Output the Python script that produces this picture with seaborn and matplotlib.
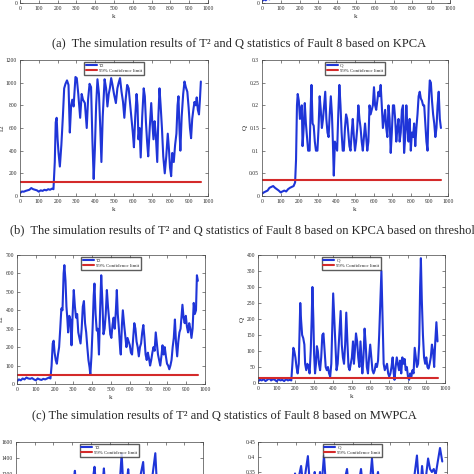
import numpy as np
import pandas as pd
import matplotlib
matplotlib.use("Agg")
import matplotlib.pyplot as plt
import seaborn as sns

# ---- data ----
# (a) only the first few samples of the Q panel peek into the crop
a_q_k = [0, 10, 20, 30, 40]
a_q = [0.004, 0.008, 0.006, 0.010, 0.008]

# (b) KPCA based on threshold
b_t2_k = [0, 10, 20, 30, 40, 50, 60, 70, 80, 90, 100, 110, 120, 130, 140, 150, 160, 170, 178,
          185, 190, 195, 200, 205, 212, 220, 228, 235, 242, 250, 258, 265, 272, 278, 285, 295,
          302, 310, 320, 328, 335, 345, 355, 362, 370, 378, 385, 392, 398, 405, 412, 420, 427,
          433, 440, 450, 458, 465, 472, 478, 485, 492, 500, 510, 518, 525, 532, 540, 548, 555,
          562, 570, 578, 585, 592, 600, 606, 613, 620, 625, 630, 636, 642, 650, 658, 664, 670,
          676, 682, 690, 698, 704, 710, 716, 722, 730, 736, 742, 748, 755, 762, 770, 778, 786,
          792, 798, 804, 810, 818, 825, 832, 838, 843, 848, 853, 860, 868, 875, 882, 890, 897,
          904, 910, 916, 922, 928, 935, 940, 946, 952, 957, 962]
b_t2 = [25, 40, 38, 45, 50, 55, 70, 60, 55, 50, 38, 50, 45, 55, 50, 60, 55, 65, 60,
        300, 650, 690, 500, 380, 260, 450, 700, 950, 990, 1020, 980, 560, 800, 850, 790, 1050,
        1040, 900, 690, 900, 850, 820, 600, 850, 990, 960, 500, 150, 400, 800, 1030, 900, 600,
        300, 700, 1030, 950, 790, 900, 950, 1040, 980, 900, 820, 950, 1000, 1040, 920, 830, 690,
        850, 980, 950, 820, 700, 560, 430, 700, 900, 800, 500, 600, 340, 700, 950, 880, 650,
        480, 350, 600, 820, 640, 500, 660, 550, 300, 700, 950, 800, 600, 350, 200, 350, 550,
        420, 250, 175, 380, 300, 450, 550, 800, 880, 600, 400, 700, 900, 1010, 960, 920, 780,
        600, 510, 680, 760, 830, 800, 870, 760, 720, 850, 1010]
b_t2_limit = 120

b_q_k = [0, 10, 20, 30, 40, 50, 60, 70, 80, 90, 100, 110, 120, 130, 140, 150, 160, 170, 178,
         183, 188, 192, 198, 204, 210, 214, 218, 224, 230, 236, 242, 248, 256, 262, 266, 272,
         278, 284, 290, 298, 304, 310, 316, 322, 328, 334, 340, 346, 352, 358, 364, 370, 376,
         381, 386, 392, 398, 404, 410, 416, 422, 428, 434, 440, 446, 452, 458, 464, 470, 476,
         482, 488, 494, 500, 506, 512, 518, 524, 530, 536, 542, 548, 554, 560, 566, 572, 578,
         584, 590, 596, 602, 608, 614, 620, 626, 632, 638, 644, 650, 656, 662, 668, 674, 680,
         686, 692, 698, 704, 710, 716, 722, 728, 734, 740, 746, 752, 758, 764, 770, 776, 782,
         788, 794, 800, 806, 812, 818, 824, 830, 836, 842, 848, 854, 860, 866, 872, 878, 884,
         890, 896, 902, 908, 914, 920, 926, 932, 938, 944, 950, 956, 962]
b_q = [0.005, 0.008, 0.010, 0.012, 0.018, 0.020, 0.022, 0.018, 0.015, 0.012, 0.008, 0.010,
       0.012, 0.010, 0.015, 0.018, 0.020, 0.022, 0.030,
       0.08, 0.20, 0.225, 0.21, 0.17, 0.19, 0.20, 0.11, 0.15, 0.205, 0.16, 0.13, 0.10, 0.10,
       0.20, 0.245, 0.16, 0.155, 0.12, 0.10, 0.10, 0.15, 0.22, 0.19, 0.15, 0.17, 0.20, 0.23,
       0.17, 0.14, 0.13, 0.18, 0.22, 0.18, 0.12, 0.045, 0.12, 0.11, 0.10, 0.18, 0.245, 0.20,
       0.14, 0.10, 0.10, 0.15, 0.18, 0.17, 0.14, 0.11, 0.10, 0.14, 0.17, 0.13, 0.10, 0.12,
       0.15, 0.20, 0.17, 0.15, 0.12, 0.10, 0.13, 0.16, 0.13, 0.10, 0.12, 0.20, 0.18, 0.19,
       0.20, 0.24, 0.20, 0.19, 0.21, 0.23, 0.22, 0.245, 0.20, 0.15, 0.17, 0.19, 0.15, 0.13,
       0.20, 0.17, 0.095, 0.14, 0.20, 0.20, 0.17, 0.12, 0.15, 0.17, 0.12, 0.14, 0.19, 0.20,
       0.095, 0.13, 0.20, 0.15, 0.12, 0.17, 0.10, 0.14, 0.13, 0.16, 0.11, 0.15, 0.18, 0.22,
       0.23, 0.215, 0.21, 0.20, 0.20, 0.16, 0.12, 0.10, 0.20, 0.255, 0.25, 0.21, 0.18, 0.16,
       0.13, 0.15, 0.20, 0.23, 0.17, 0.15]
b_q_limit = 0.035

# (c) MWPCA
c_t2_k = [0, 10, 20, 30, 40, 50, 60, 70, 80, 90, 100, 110, 120, 130, 140, 150, 160, 170, 178,
          184, 190, 195, 200, 206, 212, 218, 224, 230, 236, 242, 248, 252, 258, 263, 268, 272,
          278, 284, 290, 296, 302, 308, 314, 320, 326, 332, 338, 344, 350, 356, 362, 368, 374,
          380, 386, 390, 396, 402, 408, 412, 418, 424, 430, 436, 442, 448, 454, 460, 466, 472,
          478, 484, 490, 496, 502, 508, 514, 520, 526, 531, 536, 542, 548, 552, 558, 563, 570,
          576, 582, 588, 594, 600, 606, 612, 618, 624, 630, 636, 642, 648, 654, 660, 666, 672,
          678, 684, 690, 696, 702, 708, 714, 720, 726, 732, 738, 744, 750, 756, 762, 768, 774,
          780, 786, 792, 798, 804, 810, 816, 822, 828, 834, 840, 846, 852, 858, 864, 870, 876,
          880, 886, 892, 898, 904, 910, 916, 922, 928, 934, 940, 946, 952, 957, 962]
c_t2 = [15, 25, 20, 30, 25, 35, 30, 28, 32, 25, 20, 30, 25, 22, 28, 25, 30, 35, 30,
        100, 220, 235, 170, 130, 110, 160, 200, 300, 410, 400, 600, 645, 560, 420, 350, 280,
        370, 350, 210, 380, 510, 420, 360, 380, 280, 250, 220, 300, 420, 450, 330, 280, 200,
        130, 90, 50, 150, 300, 480, 545, 380, 290, 300, 160, 400, 590, 450, 270, 300, 380,
        510, 420, 350, 270, 250, 320, 360, 300, 400, 510, 380, 300, 200, 160, 320, 400, 320,
        260, 200, 250, 230, 210, 170, 160, 250, 330, 300, 230, 200, 150, 200, 220, 280, 320,
        250, 160, 130, 170, 140, 100, 130, 170, 200, 180, 280, 220, 160, 130, 100, 150, 210,
        160, 200, 150, 110, 100, 80, 100, 130, 200, 250, 350, 220, 150, 230, 280, 300, 380,
        430, 360, 330, 370, 310, 280, 330, 300, 250, 300, 440, 380, 400, 590, 560]
c_t2_limit = 50

c_q_k = [0, 10, 20, 30, 40, 50, 60, 70, 80, 90, 100, 110, 120, 130, 140, 150, 160, 170, 178,
         184, 189, 194, 200, 206, 212, 218, 222, 226, 230, 236, 242, 248, 252, 258, 264, 270,
         276, 282, 287, 291, 296, 300, 305, 310, 315, 320, 326, 332, 338, 344, 350, 356, 362,
         368, 374, 380, 386, 392, 398, 402, 408, 414, 420, 426, 432, 438, 442, 448, 454, 460,
         466, 472, 478, 484, 490, 496, 502, 508, 513, 518, 524, 530, 536, 542, 548, 553, 558,
         564, 570, 576, 582, 588, 594, 600, 606, 612, 618, 624, 630, 636, 642, 648, 654, 660,
         666, 672, 678, 684, 690, 696, 702, 708, 714, 720, 726, 730, 736, 742, 748, 754, 760,
         766, 772, 778, 784, 790, 796, 802, 808, 814, 820, 826, 832, 838, 844, 850, 856, 862,
         867, 871, 876, 882, 888, 894, 900, 906, 912, 918, 924, 930, 936, 942, 948, 954, 960]
c_q = [5, 10, 8, 12, 6, 10, 15, 8, 12, 10, 5, 12, 8, 10, 6, 12, 8, 10, 8,
       60, 110, 100, 80, 50, 30, 60, 150, 250, 200, 150, 140, 120, 60, 40, 60, 50,
       30, 100, 200, 300, 200, 90, 30, 60, 115, 100, 60, 40, 80, 150, 155, 100, 50,
       40, 50, 30, 20, 60, 200, 280, 200, 120, 40, 60, 120, 180, 225, 120, 80, 60,
       120, 220, 130, 50, 40, 60, 80, 130, 60, 100, 155, 130, 80, 50, 130, 80, 30,
       80, 170, 120, 50, 30, 80, 120, 80, 40, 30, 40, 60, 50, 70, 150, 250, 350,
       200, 60, 40, 50, 60, 30, 20, 30, 50, 80, 30, 10, 50, 80, 60, 40, 70,
       30, 80, 60, 75, 40, 50, 20, 10, 30, 20, 40, 30, 110, 80, 50, 60, 120,
       300, 390, 260, 150, 80, 60, 80, 50, 45, 60, 80, 120, 100, 50, 130, 190, 130]
c_q_limit = 15

# (d) only the top of the next row is visible
d_t2_k = [0, 180, 200, 240, 270, 300, 315, 325, 360, 400, 420, 430, 460, 470, 480, 520, 555,
          565, 575, 590, 600, 610, 650, 680, 690, 720, 745, 755, 800, 960]
d_t2 = [40, 60, 900, 1000, 900, 1000, 1240, 950, 1000, 950, 1290, 1000, 1000, 1270, 950,
        1000, 1100, 1450, 1000, 1050, 1260, 1000, 1000, 1350, 950, 1000, 1460, 1000, 900, 900]
d_t2_limit = 150

d_q_k = [0, 180, 190, 196, 205, 228, 240, 264, 275, 290, 300, 310, 320, 328, 336, 349, 360,
         450, 471, 480, 530, 545, 555, 590, 603, 612, 620, 635, 645, 820, 841, 852, 860, 868,
         876, 888, 900, 910, 920, 930, 940, 950, 963, 975]
d_q = [0.01, 0.02, 0.30, 0.345, 0.30, 0.37, 0.30, 0.403, 0.30, 0.30, 0.35, 0.30, 0.30, 0.35,
       0.30, 0.405, 0.30, 0.30, 0.36, 0.30, 0.30, 0.36, 0.30, 0.30, 0.395, 0.32, 0.30, 0.35,
       0.30, 0.30, 0.405, 0.30, 0.30, 0.37, 0.32, 0.33, 0.395, 0.36, 0.35, 0.36, 0.34, 0.38,
       0.43, 0.385]
d_q_limit = 0.04

captions = [
    "(a)  The simulation results of T\u00b2 and Q statistics of Fault 8 based on KPCA",
    "(b)  The simulation results of T\u00b2 and Q statistics of Fault 8 based on KPCA based on threshold",
    "(c) The simulation results of T\u00b2 and Q statistics of Fault 8 based on MWPCA",
]

# ---- style ----
sns.set_style("ticks")
plt.rcParams["font.family"] = ["Liberation Serif", "DejaVu Serif"]
plt.rcParams["xtick.direction"] = "in"
plt.rcParams["ytick.direction"] = "in"

BLUE = "#1f35d8"
RED = "#d42a2a"
W = H = 474.0

fig = plt.figure(figsize=(4.74, 4.74), dpi=100)


def px_axes(x0, y0, x1, y1):
    # pixel box measured from the top-left corner of the picture
    return fig.add_axes([x0 / W, 1 - y1 / H, (x1 - x0) / W, (y1 - y0) / H])


def panel(box, k, vals, limit, ymax, ystep, name, ylabel, legend=True, lab_off=15):
    ax = px_axes(*box)
    df = pd.DataFrame({"k": k, "v": vals})
    sns.lineplot(data=df, x="k", y="v", ax=ax, color=BLUE, lw=1.5,
                 estimator=None, sort=False, label=name)
    lim = pd.DataFrame({"k": [0, k[-1]], "v": [limit, limit]})
    sns.lineplot(data=lim, x="k", y="v", ax=ax, color=RED, lw=1.5,
                 estimator=None, label="99% Confidence limit")
    ax.set_xlim(0, 1000)
    ax.set_ylim(0, ymax)
    ax.set_xticks(np.arange(0, 1001, 100))
    ticks = np.arange(0, ymax + ystep / 2, ystep)
    ax.set_yticks(ticks)
    ax.set_yticklabels([f"{t:g}" for t in ticks])
    ax.tick_params(labelsize=4, length=2, width=0.4, pad=2, top=True, right=True)
    for s in ax.spines.values():
        s.set_linewidth(0.5)
        s.set_color("#444444")
    ax.set_xlabel("k", fontsize=5, labelpad=2)
    ax.set_ylabel(ylabel, fontsize=5)
    ax.yaxis.set_label_coords(-lab_off / (box[2] - box[0]), 0.5)
    if legend:
        ax.legend(loc="upper center", fontsize=3.5, frameon=True, fancybox=False,
                  edgecolor="#333333", handlelength=2.2, borderpad=0.3,
                  labelspacing=0.2, borderaxespad=0.4, handletextpad=0.5)
    else:
        ax.get_legend().remove()
    return ax


# row (a): only the bottom edge is in view
panel((20, -133, 208, 3), [0, 960], [2000, 2000], 2000, 1200, 200, "T2", "T2", legend=False)
panel((262, -133, 450, 3), a_q_k, a_q, 1.0, 0.3, 0.05, "Q", "Q", legend=False)

# row (b)
panel((20, 60, 208, 196), b_t2_k, b_t2, b_t2_limit, 1200, 200, "T2", "T2")
panel((262, 60, 448, 196), b_q_k, b_q, b_q_limit, 0.3, 0.05, "Q", "Q", lab_off=14)

# row (c)
panel((17, 255, 205, 384), c_t2_k, c_t2, c_t2_limit, 700, 100, "T2", "T2", lab_off=13)
panel((258, 255, 445, 383), c_q_k, c_q, c_q_limit, 400, 50, "Q", "Q", lab_off=13)

# row (d): runs off the bottom
panel((16, 442, 203, 570), d_t2_k, d_t2, d_t2_limit, 1600, 200, "T2", "T2", lab_off=12)
panel((258, 442, 447, 577), d_q_k, d_q, d_q_limit, 0.45, 0.05, "Q", "Q", lab_off=13)

fig.text(239 / W, 1 - 43 / H, captions[0], ha="center", va="center", fontsize=9)
fig.text(10 / W, 1 - 230 / H, captions[1], ha="left", va="center", fontsize=9)
fig.text(224 / W, 1 - 415 / H, captions[2], ha="center", va="center", fontsize=9)

fig.savefig("out.png", dpi=100)
